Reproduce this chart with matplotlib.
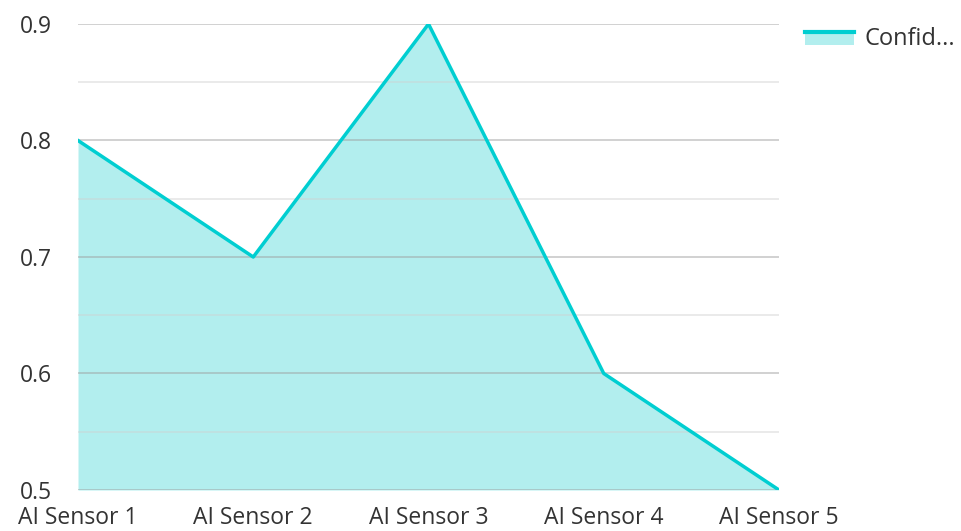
import matplotlib.pyplot as plt
import numpy as np
from matplotlib.patches import Rectangle
from matplotlib.lines import Line2D
from matplotlib.legend_handler import HandlerBase

# === Data ===
sensors = ["AI Sensor 1", "AI Sensor 2", "AI Sensor 3", "AI Sensor 4", "AI Sensor 5"]
confidence = [0.8, 0.7, 0.9, 0.6, 0.5]
series_label = "Confid..."

plt.rcParams['font.family'] = ['Open Sans', 'DejaVu Sans']

line_color = "#00CED1"
fill_color = "#B2EEEE"


class AreaHandler(HandlerBase):
    # line on top of a filled strip, like an area-series legend key
    def create_artists(self, legend, orig_handle, xdescent, ydescent, width, height, fontsize, trans):
        top = height * 0.8
        rect = Rectangle((-xdescent, -ydescent), width, top, facecolor=fill_color,
                         edgecolor='none', transform=trans)
        line = Line2D([-xdescent, -xdescent + width], [top - ydescent] * 2,
                      color=line_color, linewidth=3, transform=trans)
        return [rect, line]


fig = plt.figure(figsize=(9.61, 5.31), dpi=100)
ax = fig.add_axes([78 / 961, 1 - 490 / 531, (779 - 78) / 961, (490 - 24) / 531])

x = np.arange(len(sensors))
ax.fill_between(x, confidence, 0.5, color=fill_color, linewidth=0, zorder=1)
ax.plot(x, confidence, color=line_color, linewidth=2.5, zorder=3)

# === Grid ===
ax.set_ylim(0.5, 0.9)
ax.set_xlim(0, len(sensors) - 1)
major = [0.5, 0.6, 0.7, 0.8, 0.9]
ax.set_yticks(major)
ax.set_yticklabels([f"{v:.1f}" for v in major])
for v in major:
    ax.axhline(v, color="#9e9e9e", alpha=0.55, linewidth=1.2, zorder=2)
for v in [0.55, 0.65, 0.75, 0.85]:
    ax.axhline(v, color="#cfcfcf", alpha=0.5, linewidth=1.2, zorder=2)

ax.set_xticks(x)
ax.set_xticklabels(sensors)
ax.tick_params(axis='both', length=0, labelsize=16.5, colors="#333333")
ax.tick_params(axis='y', pad=19)
ax.tick_params(axis='x', pad=11.5)
for s in ax.spines.values():
    s.set_visible(False)

# === Legend ===
leg_handle = object()
fig.legend([leg_handle], [series_label], handler_map={leg_handle: AreaHandler()},
           loc='upper left', bbox_to_anchor=(784 / 961, 1 - 6 / 531),
           frameon=False, fontsize=17, handlelength=2.05, handletextpad=0.45,
           labelcolor="#333333")

plt.savefig("out.png", dpi=100)
